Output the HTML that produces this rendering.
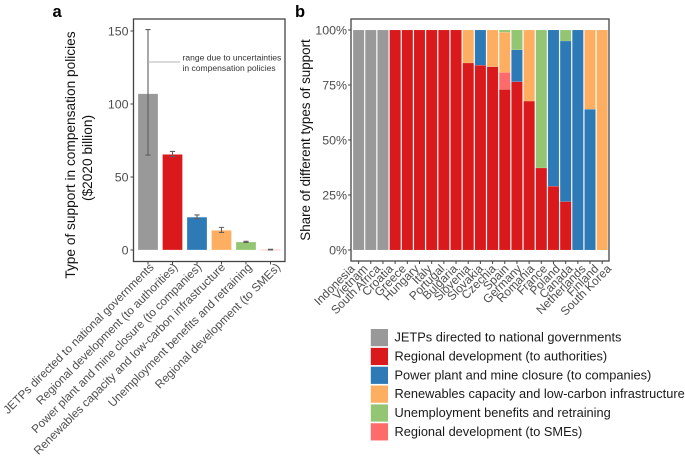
<!DOCTYPE html>
<html>
<head>
<meta charset="utf-8">
<style>
html,body{margin:0;padding:0;background:#fff;width:685px;height:460px;overflow:hidden}
svg{display:block;font-family:"Liberation Sans",Arial,sans-serif;filter:blur(0.3px)}
</style>
</head>
<body>
<svg id="fig" width="685" height="460" viewBox="0 0 685 460" xmlns="http://www.w3.org/2000/svg">
  <rect width="685" height="460" fill="#fff"/>
  <text x="52.5" y="17" font-size="16.5" font-weight="bold" fill="#000">a</text>
  <text x="295" y="17" font-size="16.5" font-weight="bold" fill="#000">b</text>
  <g id="panelA"></g>
  <g id="panelB"></g>
  <text transform="translate(75,155) rotate(-90)" text-anchor="middle" font-size="13.7" fill="#111">Type of support in compensation policies</text>
  <text transform="translate(92,158) rotate(-90)" text-anchor="middle" font-size="13.7" fill="#111">($2020 billion)</text>
  <text transform="translate(310,140) rotate(-90)" text-anchor="middle" font-size="13.4" fill="#111">Share of different types of support</text>
  <line x1="148" y1="62" x2="180" y2="62" stroke="#b5b5b5" stroke-width="1"/>
  <text x="182.5" y="60.5" font-size="8.55" fill="#333">range due to uncertainties</text>
  <text x="182.5" y="70.8" font-size="8.55" fill="#333">in compensation policies</text>
  <g id="legend"></g>
</svg>
<script>
// Panel a data
var typeLabels = ["JETPs directed to national governments","Regional development (to authorities)","Power plant and mine closure (to companies)","Renewables capacity and low-carbon infrastructure","Unemployment benefits and retraining","Regional development (to SMEs)"];
var typeColors = ["#999999","#d9191c","#2d7ab6","#fdae61","#93c572","#ff6b6b"];
var supportValues = [107,65.5,22.5,13.5,5.5,0.3];
var supportLow = [65,64,21.5,12,5.2,0];
var supportHigh = [151,67.5,24,15.5,6,0.5];
var supportTicks = [0,50,100,150];

// Panel b data
var countries = ["Indonesia","Vietnam","South Africa","Croatia","Greece","Hungary","Italy","Portugal","Bulgaria","Slovenia","Slovakia","Czechia","Spain","Germany","Romania","France","Poland","Canada","Netherlands","Finland","South Korea"];
var shareJetp =    [100,100,100,0,0,0,0,0,0,0,0,0,0,0,0,0,0,0,0,0,0];
var shareRegional =[0,0,0,100,100,100,100,100,100,85,84,83.3,73,76.5,67.7,37.3,29,22,0,0,0];
var shareSme =     [0,0,0,0,0,0,0,0,0,0,0,0,7.7,0,0,0,0,0,0,0,0];
var sharePower =   [0,0,0,0,0,0,0,0,0,0,16,0,0,14.5,0,0,71,73,100,64,0];
var shareRenew =   [0,0,0,0,0,0,0,0,0,15,0,16.7,18.3,0,32.3,0,0,0,0,36,100];
var shareUnemp =   [0,0,0,0,0,0,0,0,0,0,0,0,1,9,0,62.7,0,5,0,0,0];
var shareTicks = [0,25,50,75,100];

var NS = "http://www.w3.org/2000/svg";
function mk(parent, tag, props) {
  var el = document.createElementNS(NS, tag);
  for (var k in props) el.setAttribute(k, props[k]);
  parent.appendChild(el);
  return el;
}
function yA(v) { return 250 - v * 1.46; }
function xA(i) { return 148 + i * 24.5; }
function yB(v) { return 250 - v * 2.2; }
function xB(i) { return 358.6 + i * 12.18; }
function labelXA(i) { return xA(i) + (i < 4 ? 6.5 - 0.7 * i : (i === 4 ? 6.5 : 10.5)); }
function labelXB(i) { return 355.5 + i * 12.83; }

var gA = document.getElementById("panelA");
var gB = document.getElementById("panelB");
var gL = document.getElementById("legend");

// Panel a marks
supportValues.forEach(function (v, i) {
  var bar = mk(gA, "rect", {x: xA(i) - 10, y: yA(v), width: 20, height: yA(0) - yA(v), fill: typeColors[i], stroke: "#fff", "stroke-opacity": 0.45, "stroke-width": 0.6});
  
  
  if (v < 1) {
    var base = mk(gA, "line", {x1: xA(i) - 10, x2: xA(i) + 10, y1: yA(0), y2: yA(0), stroke: "#ffc9c9", "stroke-width": 1});
    
    
  }
});
supportValues.forEach(function (v, i) {
  var capW = 2.6;
  var d = "M" + xA(i) + " " + yA(supportLow[i]) + "V" + yA(supportHigh[i]) +
          "M" + (xA(i) - capW) + " " + yA(supportLow[i]) + "H" + (xA(i) + capW) +
          "M" + (xA(i) - capW) + " " + yA(supportHigh[i]) + "H" + (xA(i) + capW);
  var err = mk(gA, "path", {d: d, stroke: "#5f5f5f", "stroke-width": 1.1, fill: "none"});
  
  
});
var frameA = mk(gA, "rect", {x: 133.5, y: 19, width: 151.5, height: 242.5, fill: "none", stroke: "#444", "stroke-width": 1.3});


supportTicks.forEach(function (t) {
  var tick = mk(gA, "line", {x1: 130.5, x2: 133.5, y1: yA(t), y2: yA(t), stroke: "#444", "stroke-width": 1});
  
  
  var lab = mk(gA, "text", {x: 128.5, y: yA(t) + 4.4, "text-anchor": "end", "font-size": 12.4, fill: "#4d4d4d"});
  
  
  lab.textContent = t;
});
typeLabels.forEach(function (name, i) {
  var tick = mk(gA, "line", {x1: xA(i), x2: xA(i), y1: 261.5, y2: 264.5, stroke: "#444", "stroke-width": 1});
  
  
  var lab = mk(gA, "text", {transform: "translate(" + labelXA(i) + ",268) rotate(-45)", "text-anchor": "end", "font-size": 11.7, fill: "#4d4d4d"});
  
  
  lab.textContent = name;
});

// Panel b marks
var shareSeries = [shareJetp, shareRegional, shareSme, sharePower, shareRenew, shareUnemp];
var seriesColors = [typeColors[0], typeColors[1], typeColors[5], typeColors[2], typeColors[3], typeColors[4]];
countries.forEach(function (c, i) {
  var cum = 0;
  shareSeries.forEach(function (series, s) {
    var v = series[i];
    if (v > 0) {
      var seg = mk(gB, "rect", {x: xB(i) - 5.55, y: yB(cum + v), width: 11.1, height: yB(cum) - yB(cum + v), fill: seriesColors[s], stroke: "#fff", "stroke-opacity": 0.25, "stroke-width": 0.4});
      
      
      cum += v;
    }
  });
  var tick = mk(gB, "line", {x1: xB(i), x2: xB(i), y1: 261, y2: 264, stroke: "#444", "stroke-width": 1});
  
  
  var lab = mk(gB, "text", {transform: "translate(" + labelXB(i) + ",269.5) rotate(-45)", "text-anchor": "end", "font-size": 11.9, fill: "#4d4d4d"});
  
  
  lab.textContent = c;
});
var frameB = mk(gB, "rect", {x: 351, y: 19, width: 258, height: 242, fill: "none", stroke: "#444", "stroke-width": 1.3});


shareTicks.forEach(function (t) {
  var tick = mk(gB, "line", {x1: 348, x2: 351, y1: yB(t), y2: yB(t), stroke: "#444", "stroke-width": 1});
  
  
  var lab = mk(gB, "text", {x: 347, y: yB(t) + 4.4, "text-anchor": "end", "font-size": 12.4, fill: "#4d4d4d"});
  
  
  lab.textContent = t + "%";
});

// Legend
typeLabels.forEach(function (name, i) {
  var y = 329 + i * 18.85;
  var sw = mk(gL, "rect", {x: 370.8, y: y, width: 17.2, height: 17.2, fill: typeColors[i]});
  
  
  var lab = mk(gL, "text", {x: 394.5, y: y + 12.6, "font-size": 12.8, fill: "#1a1a1a"});
  
  
  lab.textContent = name;
});
</script>
</body>
</html>
